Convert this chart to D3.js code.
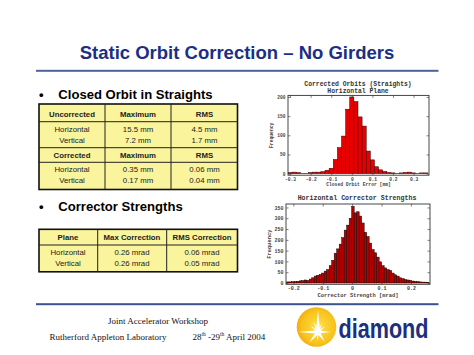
<!DOCTYPE html>
<html><head><meta charset="utf-8">
<script src="https://cdn.jsdelivr.net/npm/d3@7"></script>
<style>body{margin:0;background:#fff}svg{display:block}</style>
</head><body><svg id="c" width="474" height="355"></svg>
<script>
// ---------- data ----------
const slideTitle = "Static Orbit Correction \u2013 No Girders";
const bullet1 = "Closed Orbit in Straights";
const bullet2 = "Corrector Strengths";
const table1Rows = [
  ["Uncorrected","Maximum","RMS"],
  ["Horizontal","15.5 mm","4.5 mm"],
  ["Vertical","7.2 mm","1.7 mm"],
  ["Corrected","Maximum","RMS"],
  ["Horizontal","0.35 mm","0.06 mm"],
  ["Vertical","0.17 mm","0.04 mm"]
];
const table2Rows = [
  ["Plane","Max Correction","RMS Correction"],
  ["Horizontal","0.26 mrad","0.06 mrad"],
  ["Vertical","0.26 mrad","0.05 mrad"]
];
// Histogram 1: corrected orbit error [mm], bins of width 0.02
const orbitBinCenters = [-0.30,-0.28,-0.26,-0.24,-0.22,-0.20,-0.18,-0.16,-0.14,-0.12,-0.10,-0.08,-0.06,-0.04,-0.02,0,
  0.02,0.04,0.06,0.08,0.10,0.12,0.14,0.16,0.18,0.20,0.22,0.24,0.26,0.28,0.30,0.32,0.34,0.36];
const orbitCounts = [3,4,3,1,1,3,4,4,5,9,14,37,68,98,168,200,
  188,148,124,59,36,18,10,6,3,2,1,2,3,4,2,1,2,2];
const orbitBinWidth = 0.02;
const orbitXTicks = [-0.3,-0.2,-0.1,0,0.1,0.2,0.3];
const orbitYTicks = [0,50,100,150,200];
// Histogram 2: horizontal corrector strength [mrad]
const corrBinStart = -0.2225, corrBinWidth = 0.0085;
const corrCounts = [5,5,6,6,8,10,11,14,12,18,24,32,36,40,46,55,62,80,105,138,158,180,210,245,268,300,355,
  325,330,310,278,235,215,185,155,140,120,98,80,70,62,58,46,38,32,24,20,16,14,12,9,7,6,5,4,4,3];
const corrXTicks = [-0.2,-0.1,0,0.1,0.2];
const corrYTicks = [0,50,100,150,200,250,300,350];
const footer1 = "Joint Accelerator Workshop";
const footer2 = "Rutherford Appleton Laboratory";
const logoText = "diamond";

// ---------- drawing ----------
const svg = d3.select("#c");
const navy = "#1b2f85";
svg.append("rect").attr("width",474).attr("height",355).attr("fill","#fff");

svg.append("text").attr("x",237).attr("y",59).attr("text-anchor","middle")
  .attr("font-family","Liberation Sans, Arial, sans-serif").attr("font-weight","bold")
  .attr("font-size",18.5).attr("fill",navy).text(slideTitle);
svg.append("rect").attr("x",36).attr("y",69.8).attr("width",402.5).attr("height",2).attr("fill","#4d639c");
svg.append("rect").attr("x",36).attr("y",303.2).attr("width",402.5).attr("height",2).attr("fill","#3d5391");

function bullet(txt, y){
  svg.append("text").attr("x",39).attr("y",y).attr("font-family","Liberation Sans, Arial, sans-serif")
    .attr("font-weight","bold").attr("font-size",13).attr("fill","#000").text("\u2022");
  svg.append("text").attr("x",58.3).attr("y",y).attr("font-family","Liberation Sans, Arial, sans-serif")
    .attr("font-weight","bold").attr("font-size",13.1).attr("fill","#000").text(txt);
}
bullet(bullet1, 99);
bullet(bullet2, 211);

function table(rows, x0, x1, colX, rowY, rowLines, textY, centers, boldRows){
  const g = svg.append("g");
  const y0 = rowY[0], y1 = rowY[1];
  g.append("rect").attr("x",x0).attr("y",y0).attr("width",x1-x0).attr("height",y1-y0)
    .attr("fill","#faf49c").attr("stroke","#111").attr("stroke-width",1.6);
  colX.forEach(cx=>g.append("line").attr("x1",cx).attr("x2",cx).attr("y1",y0).attr("y2",y1)
    .attr("stroke","#222").attr("stroke-width",1));
  rowLines.forEach(ry=>g.append("line").attr("x1",x0).attr("x2",x1).attr("y1",ry).attr("y2",ry)
    .attr("stroke","#222").attr("stroke-width",1));
  rows.forEach((r,i)=>{
    r.forEach((c,j)=>{
      g.append("text").attr("x",centers[j]).attr("y",textY[i]).attr("text-anchor","middle")
        .attr("dominant-baseline","central")
        .attr("font-family","Liberation Sans, Arial, sans-serif")
        .attr("font-weight", boldRows.includes(i)?"bold":"normal")
        .attr("font-size",7.8).attr("fill","#222").text(c);
    });
  });
}
table(table1Rows, 39, 237.5, [105,171], [104,189.5], [121.7,147.7,162.3],
  [114,129,140.5,155,169.5,180.8], [72,138,204.5], [0,3]);
table(table2Rows, 39, 237.5, [97.7,166.7], [229.3,271.8], [245],
  [237.3,252.8,263.8], [68,132,202], [0]);

// histograms
const mono = "Liberation Mono, Courier New, monospace";
function hist(cfg){
  const x = d3.scaleLinear().domain(cfg.xDomain).range([cfg.x0,cfg.x1]);
  const y = d3.scaleLinear().domain(cfg.yDomain).range([cfg.yb,cfg.yt]);
  const g = svg.append("g");
  g.append("rect").attr("x",cfg.x0).attr("y",cfg.yt).attr("width",cfg.x1-cfg.x0).attr("height",cfg.yb-cfg.yt)
    .attr("fill","#fff");
  const clipId = "clip"+cfg.id;
  svg.append("clipPath").attr("id",clipId).append("rect").attr("x",cfg.x0).attr("y",cfg.yt)
    .attr("width",cfg.x1-cfg.x0).attr("height",cfg.yb-cfg.yt);
  g.append("g").attr("clip-path",`url(#${clipId})`).selectAll("rect").data(cfg.bins).join("rect")
    .attr("x",d=>x(d.lo)).attr("width",d=>x(d.hi)-x(d.lo))
    .attr("y",d=>y(d.v)).attr("height",d=>y(0)-y(d.v))
    .attr("fill",cfg.fill).attr("stroke",cfg.edge).attr("stroke-width",cfg.edgeW);
  const fmt = d=> d===0 ? "0" : (Math.abs(d)<1 ? d.toFixed(1) : String(d));
  const bx = g.append("g").attr("transform",`translate(0,${cfg.yb})`)
    .call(d3.axisBottom(x).tickValues(cfg.xTicks).tickSize(-2.5).tickPadding(2.5).tickFormat(fmt));
  const by = g.append("g").attr("transform",`translate(${cfg.x0},0)`)
    .call(d3.axisLeft(y).tickValues(cfg.yTicks).tickSize(-2.5).tickPadding(2.5).tickFormat(d=>String(d)));
  g.append("g").attr("transform",`translate(0,${cfg.yt})`)
    .call(d3.axisTop(x).tickValues(cfg.xTicks).tickSize(-2.5).tickFormat(""));
  g.append("g").attr("transform",`translate(${cfg.x1},0)`)
    .call(d3.axisRight(y).tickValues(cfg.yTicks).tickSize(-2.5).tickFormat(""));
  [bx,by].forEach(a=>a.selectAll("text").attr("font-family",mono).attr("font-size",cfg.tickFont)
    .attr("font-weight","bold").attr("fill","#444"));
  g.selectAll(".domain").remove();
  g.selectAll(".tick line").attr("stroke","#333").attr("stroke-width",0.6);
  g.append("rect").attr("x",cfg.x0).attr("y",cfg.yt).attr("width",cfg.x1-cfg.x0).attr("height",cfg.yb-cfg.yt)
    .attr("fill","none").attr("stroke","#333").attr("stroke-width",0.9);
  cfg.titles.forEach((t,i)=>svg.append("text").attr("x",cfg.titleX).attr("y",cfg.titleY[i])
    .attr("text-anchor","middle").attr("font-family",mono).attr("font-size",cfg.titleFont)
    .attr("font-weight","bold").attr("fill","#333").text(t));
  svg.append("text").attr("x",(cfg.x0+cfg.x1)/2).attr("y",cfg.xLabelY).attr("text-anchor","middle")
    .attr("font-family",mono).attr("font-size",cfg.labelFont).attr("font-weight","bold").attr("fill","#444")
    .text(cfg.xLabel);
  svg.append("text").attr("transform",`translate(${cfg.yLabelX},${(cfg.yt+cfg.yb)/2}) rotate(-90)`)
    .attr("text-anchor","middle").attr("font-family",mono).attr("font-size",cfg.labelFont)
    .attr("font-weight","bold").attr("fill","#444").text("Frequency");
}

hist({id:1, xDomain:[-0.31,0.375], yDomain:[-4,204], x0:288, x1:429, yt:95.4, yb:175.2,
  bins: orbitBinCenters.map((c,i)=>({lo:c-orbitBinWidth/2, hi:c+orbitBinWidth/2, v:orbitCounts[i]})),
  fill:"#e60000", edge:"#3a0000", edgeW:0.5, xTicks:orbitXTicks, yTicks:orbitYTicks,
  tickFont:4.6, titles:["Corrected Orbits (Straights)","Horizontal Plane"], titleX:358, titleY:[86,92.5],
  titleFont:6.4, xLabel:"Closed Orbit Error [mm]", xLabelY:186, labelFont:4.7, yLabelX:273});

hist({id:2, xDomain:[-0.225,0.265], yDomain:[-6,366], x0:286, x1:430, yt:204, yb:284.3,
  bins: corrCounts.map((v,i)=>({lo:corrBinStart+i*corrBinWidth, hi:corrBinStart+(i+1)*corrBinWidth, v:v})),
  fill:"#b30000", edge:"#1a0000", edgeW:0.5, xTicks:corrXTicks, yTicks:corrYTicks,
  tickFont:5, titles:["Horizontal Corrector Strengths"], titleX:357, titleY:[200],
  titleFont:6.6, xLabel:"Corrector Strength [mrad]", xLabelY:296.5, labelFont:5.4, yLabelX:271});

// footer
const serif = "Liberation Serif, Times New Roman, serif";
svg.append("text").attr("x",158).attr("y",324).attr("text-anchor","middle").attr("font-family",serif)
  .attr("font-size",9).attr("fill","#111").text(footer1);
svg.append("text").attr("x",49.5).attr("y",339.5).attr("font-family",serif)
  .attr("font-size",9).attr("fill","#111").text(footer2);
const dt = svg.append("text").attr("x",192.5).attr("y",339.5).attr("font-family",serif)
  .attr("font-size",9).attr("fill","#111");
dt.append("tspan").text("28");
dt.append("tspan").attr("font-size",5.5).attr("dy",-3.5).text("th");
dt.append("tspan").attr("dy",3.5).text(" -29");
dt.append("tspan").attr("font-size",5.5).attr("dy",-3.5).text("th");
dt.append("tspan").attr("dy",3.5).text(" April 2004");

// logo
const defs = svg.append("defs");
const rg = defs.append("radialGradient").attr("id","sun").attr("cx","0.55").attr("cy","0.5").attr("r","0.6");
rg.append("stop").attr("offset","0").attr("stop-color","#ffe046");
rg.append("stop").attr("offset","0.7").attr("stop-color","#f7c21c");
rg.append("stop").attr("offset","1").attr("stop-color","#eea50a");
svg.append("circle").attr("cx",316.5).attr("cy",327).attr("r",19.8).attr("fill","url(#sun)");
const cx=318, cy=332;
const rays = [[-90,22,2.2],[180,20,1.8],[0,13,1.6],[-140,10,1.4],[-40,9,1.4],[130,14,1.8],[55,12,1.8],[95,9,1.2],[-115,12,1.2],[-65,10,1.2]];
rays.forEach(([a,len,w])=>{
  const r=a*Math.PI/180, px=-Math.sin(r), py=Math.cos(r);
  const ex=cx+len*Math.cos(r), ey=cy+len*Math.sin(r);
  svg.append("path").attr("d",`M${cx+px*w},${cy+py*w}L${ex},${ey}L${cx-px*w},${cy-py*w}Z`).attr("fill","#fff");
});
svg.append("circle").attr("cx",cx).attr("cy",cy).attr("r",2.6).attr("fill","#fff");
svg.append("text").attr("x",338.5).attr("y",337.5).attr("font-family","Liberation Sans, Arial, sans-serif")
  .attr("font-weight","bold").attr("font-size",28.5).attr("fill","#1d2f80")
  .attr("textLength",90).attr("lengthAdjust","spacingAndGlyphs").text(logoText);
</script></body></html>
